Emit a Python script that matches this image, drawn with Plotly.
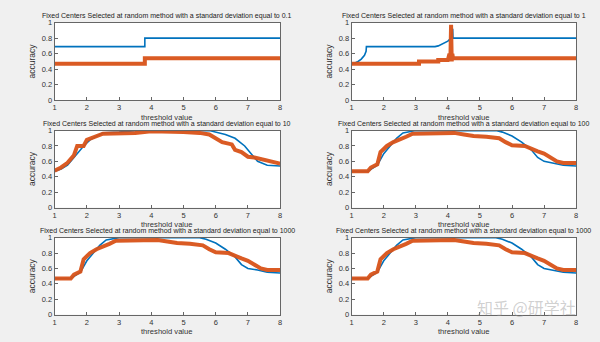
import plotly.graph_objects as go

titles = [
    "Fixed Centers Selected at random method with a standard deviation equal to 0.1",
    "Fixed Centers Selected at random method with a standard deviation equal to 1",
    "Fixed Centers Selected at random method with a standard deviation equal to 10",
    "Fixed Centers Selected at random method with a standard deviation equal to 100",
    "Fixed Centers Selected at random method with a standard deviation equal to 1000",
    "Fixed Centers Selected at random method with a standard deviation equal to 1000",
]
x_label = "threshold value"
y_label = "accuracy"
x_ticks = [1, 2, 3, 4, 5, 6, 7, 8]
y_ticks = [0, 0.2, 0.4, 0.6, 0.8, 1]

# sd = 0.1
blue1_x = [1, 3.8, 3.8, 8]
blue1_y = [0.69, 0.69, 0.80, 0.80]
orng1_x = [1, 3.8, 3.8, 8]
orng1_y = [0.47, 0.47, 0.54, 0.54]

# sd = 1
blue2_x = [1, 1.1, 1.2, 1.3, 1.4, 1.45, 1.46, 3.6, 3.7, 3.8, 3.9, 4.0, 4.1, 4.15, 4.16, 8]
blue2_y = [0.47, 0.48, 0.50, 0.53, 0.58, 0.63, 0.69, 0.69, 0.70, 0.72, 0.74, 0.76, 0.80, 0.92, 0.80, 0.80]
orng2_x = [1, 3.1, 3.1, 3.7, 3.7, 4.0, 4.05, 4.08, 4.1, 4.12, 4.14, 4.16, 8]
orng2_y = [0.47, 0.47, 0.50, 0.50, 0.52, 0.52, 0.60, 0.55, 0.97, 0.50, 0.60, 0.54, 0.54]

# sd = 10
blue3_x = [1, 1.2, 1.4, 1.6, 1.8, 1.9, 2.1, 2.3, 2.5, 3.0, 3.5, 5.8, 6.0, 6.3, 6.6, 6.9, 7.1, 7.3, 7.6, 8]
blue3_y = [0.47, 0.50, 0.55, 0.65, 0.75, 0.80, 0.88, 0.93, 0.97, 0.98, 1.0, 1.0, 0.98, 0.95, 0.90, 0.80, 0.70, 0.60, 0.55, 0.54]
orng3_x = [1, 1.2, 1.4, 1.6, 1.7, 1.9, 2.0, 2.3, 2.5, 3.5, 4.0, 5.0, 5.5, 5.8, 6.0, 6.2, 6.5, 6.6, 6.8, 7.0, 7.2, 7.5, 7.8, 8]
orng3_y = [0.48, 0.52, 0.58, 0.68, 0.80, 0.80, 0.88, 0.92, 0.96, 0.97, 0.99, 0.98, 0.97, 0.95, 0.90, 0.85, 0.82, 0.75, 0.72, 0.66, 0.65, 0.62, 0.60, 0.57]

# sd = 100 / 1000
blue4_x = [1, 1.5, 1.8, 2.0, 2.2, 2.4, 2.6, 3.0, 5.5, 5.7, 6.0, 6.3, 6.6, 6.8, 7.0, 7.3, 7.6, 8]
blue4_y = [0.47, 0.47, 0.55, 0.70, 0.80, 0.90, 0.97, 1.0, 1.0, 0.98, 0.93, 0.85, 0.75, 0.65, 0.60, 0.58, 0.55, 0.54]
orng4_x = [1, 1.5, 1.6, 1.8, 1.9, 2.1, 2.3, 2.5, 2.7, 2.9, 3.5, 4.2, 4.5, 4.8, 5.2, 5.6, 5.8, 6.0, 6.4, 6.6, 6.8, 7.0, 7.2, 7.4, 7.6, 8]
orng4_y = [0.47, 0.47, 0.52, 0.56, 0.72, 0.80, 0.85, 0.88, 0.92, 0.96, 0.97, 0.97, 0.95, 0.93, 0.92, 0.90, 0.85, 0.81, 0.80, 0.76, 0.73, 0.70, 0.65, 0.60, 0.58, 0.58]

series = [
    (blue1_x, blue1_y, orng1_x, orng1_y),
    (blue2_x, blue2_y, orng2_x, orng2_y),
    (blue3_x, blue3_y, orng3_x, orng3_y),
    (blue4_x, blue4_y, orng4_x, orng4_y),
    (blue4_x, blue4_y, orng4_x, orng4_y),
    (blue4_x, blue4_y, orng4_x, orng4_y),
]

W, H = 600, 342
col_px = [(53, 280), (352, 578)]
row_px = [(19, 99), (130, 209), (240, 319)]

BLUE = "#0072BD"
ORANGE = "#D95319"
FONT = "Liberation Sans, Arial, sans-serif"

fig = go.Figure()
layout = dict(
    width=W, height=H, margin=dict(l=0, r=0, t=0, b=0),
    paper_bgcolor="#f0f0f0", plot_bgcolor="white", showlegend=False,
    font=dict(family=FONT, color="#262626"),
)
annotations = []
for i in range(6):
    r, c = divmod(i, 2)
    x0, x1 = col_px[c]
    y0, y1 = row_px[r]
    n = "" if i == 0 else str(i + 1)
    xd = [x0 / W, x1 / W]
    yd = [1 - y1 / H, 1 - y0 / H]
    ax = dict(showline=True, mirror=True, linecolor="#666", linewidth=1,
              showgrid=False, zeroline=False, ticks="inside", ticklen=3,
              tickcolor="#666", tickfont=dict(size=7.5, color="#333"))
    layout["xaxis" + n] = dict(ax, domain=xd, range=[1, 8], tickvals=x_ticks,
                               anchor="y" + n)
    layout["yaxis" + n] = dict(ax, domain=yd, range=[0, 1], tickvals=y_ticks,
                               ticktext=["0", "0.2", "0.4", "0.6", "0.8", "1"],
                               anchor="x" + n,
                               title=dict(text=y_label, font=dict(size=8.5, color="#333"), standoff=4))
    bx, by, ox, oy = series[i]
    fig.add_trace(go.Scatter(x=bx, y=by, mode="lines", line=dict(color=BLUE, width=1.6),
                             xaxis="x" + n, yaxis="y" + n))
    fig.add_trace(go.Scatter(x=ox, y=oy, mode="lines", line=dict(color=ORANGE, width=4),
                             opacity=0.95, xaxis="x" + n, yaxis="y" + n))
    annotations.append(dict(text=titles[i], x=(x0 + x1) / 2 / W, y=1 - (y0 - 1) / H,
                            xref="paper", yref="paper", xanchor="center", yanchor="bottom",
                            showarrow=False, font=dict(size=7.0, color="#222")))
    annotations.append(dict(text=x_label, x=(x0 + x1) / 2 / W, y=1 - (y1 + 10.5) / H,
                            xref="paper", yref="paper", xanchor="center", yanchor="top",
                            showarrow=False, font=dict(size=7.6, color="#333")))

annotations.append(dict(text="知乎 @研学社", x=528 / W, y=1 - 311 / H, xref="paper", yref="paper",
                        xanchor="center", yanchor="middle", showarrow=False,
                        font=dict(size=16, color="rgba(150,150,150,0.45)", family="Noto Sans CJK SC")))
layout["annotations"] = annotations
fig.update_layout(**layout)
fig.write_html("out.html")
